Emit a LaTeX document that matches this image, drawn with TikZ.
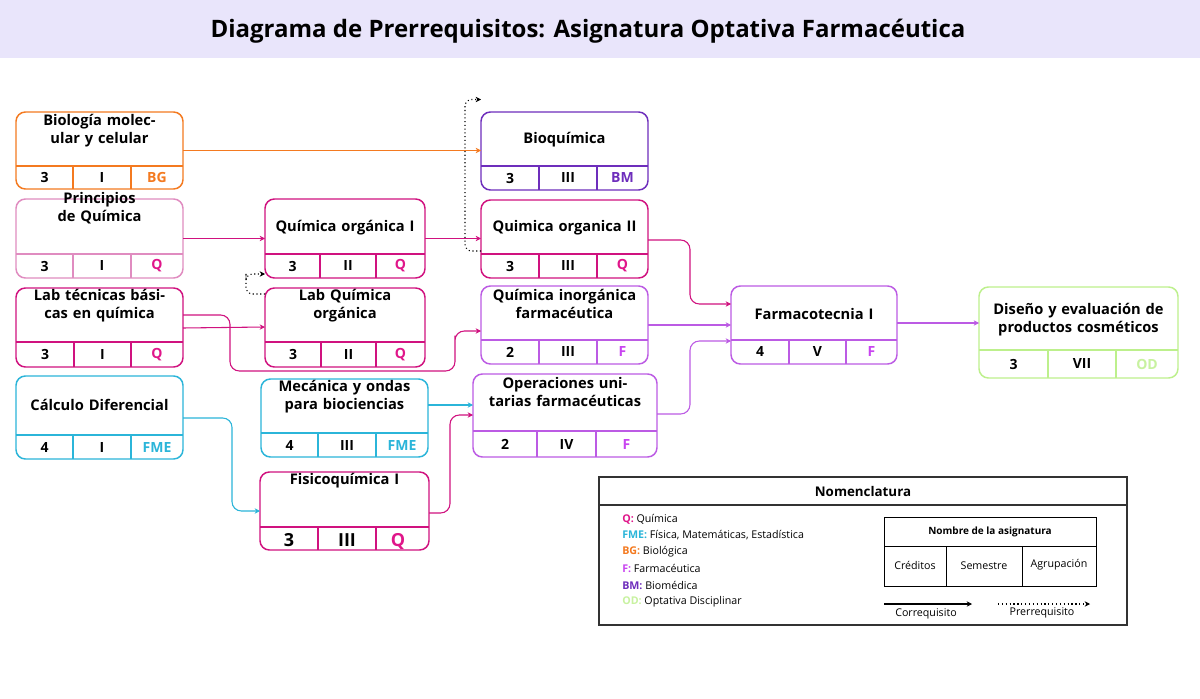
\documentclass[tikz,border=0pt]{standalone}
\usepackage{fontspec}
\setmainfont{Open Sans}
\usetikzlibrary{arrows.meta}
\definecolor{cQ}{HTML}{D0127F}
\definecolor{cQl}{HTML}{E08CC0}
\definecolor{cQt}{HTML}{E0168A}
\definecolor{cBG}{HTML}{F47A20}
\definecolor{cFME}{HTML}{2BB5D9}
\definecolor{cF}{HTML}{BC5BE4}
\definecolor{cFt}{HTML}{C844F0}
\definecolor{cBM}{HTML}{6E2EBC}
\definecolor{cOD}{HTML}{BDF08C}
\definecolor{cODt}{HTML}{C8F2A0}
\definecolor{ctitle}{HTML}{E9E5FB}
\newcommand\course[9]{%
  \node[draw=#9,line width=1.1pt,rounded corners=7pt,inner sep=0pt,outer sep=0pt,
    minimum width={(#4-#2)*0.75pt},minimum height={(#5-#3)*0.75pt}] (#1) at ({(#2+#4)/2},{(#3+#5)/2}) {};
  \draw[#9,line width=1.1pt] (#2,#6) -- (#4,#6) (#7,#6) -- (#7,#5) (#8,#6) -- (#8,#5);
  \xdef\cxa{#2}\xdef\cya{#3}\xdef\cxb{#4}\xdef\cyb{#5}\xdef\cdv{#6}\xdef\cca{#7}\xdef\ccb{#8}}
\newcommand\coursetext[6]{%
  \node[ttl,text width={(\cxb-\cxa-8)*0.75pt}] at ({(\cxa+\cxb)/2},#1) {#2};
  \node[cell] at ({(\cxa+\cca)/2},{(\cdv+\cyb)/2}) {#3};
  \node[cell] at ({(\cca+\ccb)/2},{(\cdv+\cyb)/2}) {#4};
  \node[cell,text=#6] at ({(\ccb+\cxb)/2},{(\cdv+\cyb)/2}) {#5};}
\begin{document}
\begin{tikzpicture}[x=0.75pt,y=-0.75pt,
  ttl/.style={font=\fontsize{11}{13.5}\selectfont\bfseries,align=center,inner sep=0pt},
  cell/.style={font=\fontsize{10.5}{12}\selectfont\bfseries,inner sep=0pt},
  con/.style={line width=0.8pt,rounded corners=7pt,-{Stealth[length=4pt,width=4pt]}},
  dot/.style={line width=0.8pt,dotted,rounded corners=5pt,-{Stealth[length=4pt,width=4pt]}},
  leg/.style={font=\fontsize{8}{10}\selectfont,anchor=west,inner sep=0pt}]
\useasboundingbox (0,0) rectangle (1200,699);
\fill[white] (0,0) rectangle (1200,699);
\node[fill=ctitle,minimum width=900pt,minimum height=43.5pt,inner sep=0pt] (tbar) at (600,29) {};
\node[font=\fontsize{18}{20}\selectfont\bfseries] (title) at (588,31) {Diagrama de Prerrequisitos: Asignatura Optativa Farmacéutica};

\course{bmc}{16}{112}{183}{189}{166}{73}{131}{cBG}
\coursetext{131}{Biología molecular y celular}{3}{I}{BG}{cBG}
\course{pq}{16}{199}{183}{278}{254}{73}{131}{cQl}
\coursetext{208}{Principios de Química}{3}{I}{Q}{cQt}
\course{ltb}{16}{288}{183}{367}{342}{74}{131}{cQ}
\coursetext{306}{Lab técnicas básicas en química}{3}{I}{Q}{cQt}
\course{cd}{16}{376}{183}{459}{435}{73}{131}{cFME}
\coursetext{405}{Cálculo Diferencial}{4}{I}{FME}{cFME}
\course{qo1}{265}{199}{425}{278}{254}{320}{376}{cQ}
\coursetext{228}{Química orgánica I}{3}{II}{Q}{cQt}
\course{lqo}{265}{288}{425}{367}{342}{321}{376}{cQ}
\coursetext{306}{Lab Química orgánica}{3}{II}{Q}{cQt}
\course{mob}{261}{379}{428}{457}{433}{318}{376}{cFME}
\coursetext{397}{Mecánica y ondas para biociencias}{4}{III}{FME}{cFME}
\course{fq1}{260}{472}{429}{550}{527}{318}{376}{cQ}
\coursetext{481}{Fisicoquímica I}{}{}{}{cQt}
\node[cell,font=\fontsize{13.5}{15}\selectfont\bfseries] at (289,540) {3};
\node[cell,font=\fontsize{13.5}{15}\selectfont\bfseries] at (347,540) {III};
\node[cell,font=\fontsize{13.5}{15}\selectfont\bfseries,text=cQt] at (398,541) {Q};
\course{bq}{481}{112}{648}{190}{166}{539}{597}{cBM}
\coursetext{140}{Bioquímica}{3}{III}{BM}{cBM}
\course{qo2}{481}{200}{648}{278}{254}{539}{597}{cQ}
\coursetext{228}{Quimica organica II}{3}{III}{Q}{cQt}
\course{qif}{481}{286}{648}{364}{340}{539}{597}{cF}
\coursetext{304}{Química inorgánica farmacéutica}{2}{III}{F}{cFt}
\course{ouf}{473}{374}{657}{457}{431}{537}{596}{cF}
\coursetext{392}{Operaciones unitarias farmacéuticas}{2}{IV}{F}{cFt}
\course{ft1}{731}{286}{897}{364}{340}{789}{846}{cF}
\coursetext{314}{Farmacotecnia I}{4}{V}{F}{cFt}
\course{depc}{979}{287}{1178}{378}{350}{1048}{1116}{cOD}
\coursetext{320}{Diseño y evaluación de productos cosméticos}{3}{VII}{OD}{cODt}

% connectors
\draw[con,cBG] (bmc.east) -- (bq.west |- bmc.east);
\draw[con,cQ] (pq.east) -- (qo1.west);
\draw[con,cQ] (qo1.east) -- (qo2.west |- qo1.east);
\draw[dot] ([yshift=-12*0.75pt]qo2.west) -| (465,150) |- ([yshift=12.5*0.75pt]bq.north west);
\draw[dot] ([yshift=-16*0.75pt]qo1.south west) -| (246,280) |- ([yshift=14*0.75pt]lqo.north west);
\draw[con,cQ] ([yshift=-0.5*0.75pt]ltb.east) -- (lqo.west |- 0,327);
\draw[con,cQ] ([yshift=12.5*0.75pt]ltb.east) -| (230,350) |- (455,371) -- (455,345) |- (qif.west |- 0,331);
\draw[con,cQ] (qo2.east |- 0,240) -| (690,280) |- (ft1.west |- 0,304);
\draw[con,cF] (qif.east |- 0,325) -- (ft1.west |- 0,325);
\draw[con,cF] (ouf.east |- 0,414) -| (690,360) |- (ft1.west |- 0,341);
\draw[con,cF] (ft1.east |- 0,323) -- (depc.west |- 0,323);
\draw[con,cFME] (cd.east |- 0,418) -| (232,470) |- (fq1.west |- 0,511);
\draw[con,cFME] (mob.east |- 0,405) -- (ouf.west |- 0,405);
\draw[con,cQ] (fq1.east |- 0,513) -| (450,470) |- (ouf.west |- 0,415);

% legend
\node[draw=black!80,line width=0.8pt,inner sep=0pt,minimum width={528*0.75pt},minimum height={148*0.75pt}] (legbox) at (863,551) {};
\draw[black!80,line width=0.8pt] (599,505) -- (1127,505);
\node[font=\fontsize{10}{12}\selectfont\bfseries] (legt) at (863,491) {Nomenclatura};
\node[leg] (l1) at (622,519) {\textcolor{cQt}{\bfseries Q:} Química};
\node[leg] (l2) at (622,535.5) {\textcolor{cFME}{\bfseries FME:} Física, Matemáticas, Estadística};
\node[leg] (l3) at (622,552) {\textcolor{cBG}{\bfseries BG:} Biológica};
\node[leg] (l4) at (622,568.5) {\textcolor{cFt}{\bfseries F:} Farmacéutica};
\node[leg] (l5) at (622,585) {\textcolor{cBM}{\bfseries BM:} Biomédica};
\node[leg] (l6) at (622,601.5) {\textcolor{cODt}{\bfseries OD:} Optativa Disciplinar};
\node[draw=black,line width=0.7pt,inner sep=0pt,minimum width={212*0.75pt},minimum height={69*0.75pt}] (ntab) at (990,551.5) {};
\draw[line width=0.7pt] (884,546) -- (1096,546) (946,546) -- (946,586) (1022,546) -- (1022,586);
\node[font=\fontsize{7.5}{9}\selectfont\bfseries] (nn) at (990,532) {Nombre de la asignatura};
\node[font=\fontsize{8}{9}\selectfont] (n1) at (915,565) {Créditos};
\node[font=\fontsize{8}{9}\selectfont] (n2) at (984,566) {Semestre};
\node[font=\fontsize{8}{9}\selectfont] (n3) at (1059,565) {Agrupación};
\coordinate (ca) at (884,604); \coordinate (cb) at (972,604);
\coordinate (pa) at (998,604); \coordinate (pb) at (1090,604);
\draw[line width=0.9pt,-{Stealth[length=4pt,width=4pt]}] (ca) -- (cb);
\draw[line width=0.9pt,dotted,-{Stealth[length=4pt,width=4pt]}] (pa) -- (pb);
\node[font=\fontsize{8}{9}\selectfont] (cl) at (926,614) {Correquisito};
\node[font=\fontsize{8}{9}\selectfont] (pl) at (1042,613) {Prerrequisito};
\end{tikzpicture}
\end{document}
